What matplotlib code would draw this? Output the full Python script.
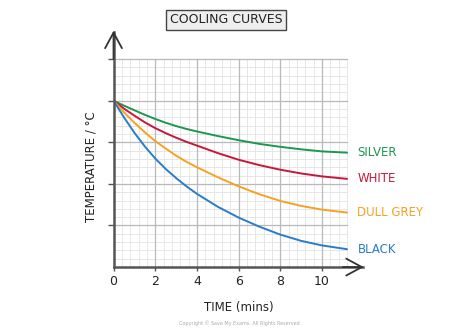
import matplotlib.pyplot as plt

# time (mins) and temperature readings (arbitrary grid units) for each surface
time = [0, 0.5, 1, 1.5, 2, 2.5, 3, 3.5, 4, 5, 6, 7, 8, 9, 10, 11.2]
silver = [4, 3.88, 3.77, 3.66, 3.56, 3.47, 3.39, 3.32, 3.26, 3.15, 3.05, 2.96, 2.89, 2.83, 2.78, 2.75]
white = [4, 3.81, 3.64, 3.48, 3.34, 3.22, 3.11, 3.01, 2.92, 2.74, 2.58, 2.45, 2.34, 2.25, 2.18, 2.12]
dull_grey = [4, 3.72, 3.47, 3.24, 3.03, 2.85, 2.68, 2.53, 2.40, 2.16, 1.94, 1.75, 1.59, 1.47, 1.38, 1.31]
black = [4, 3.60, 3.23, 2.90, 2.61, 2.36, 2.14, 1.94, 1.76, 1.45, 1.19, 0.97, 0.78, 0.63, 0.52, 0.43]

names = ['SILVER', 'WHITE', 'DULL GREY', 'BLACK']
series = [silver, white, dull_grey, black]
colours = ['#1e9651', '#c8173c', '#f5a124', '#2a7cc7']

x_ticks = [0, 2, 4, 6, 8, 10]
y_ticks = [1, 2, 3, 4, 5]
grid_right = 11.2
grid_top = 5

fig = plt.figure(figsize=(4.74, 3.33), dpi=100)
ax = fig.add_axes([0.2395, 0.198, 0.5278, 0.7246])
ax.set_xlim(0, 12)
ax.set_ylim(0, 5.8)

# graph paper: minor lines every fifth of a major square
minor_x = [i * 0.4 for i in range(1, 29)]
minor_y = [i * 0.2 for i in range(1, 26)]
for v in minor_x:
    ax.plot([v, v], [0, grid_top], color='#e3e3e3', lw=0.6, zorder=1)
for v in minor_y:
    ax.plot([0, grid_right], [v, v], color='#e3e3e3', lw=0.6, zorder=1)
for v in x_ticks[1:]:
    ax.plot([v, v], [0, grid_top], color='#b8b8b8', lw=0.9, zorder=2)
for v in y_ticks:
    ax.plot([0, grid_right], [v, v], color='#b8b8b8', lw=0.9, zorder=2)

for name, vals, c in zip(names, series, colours):
    ax.plot(time, vals, color=c, lw=1.4, zorder=4, solid_capstyle='round',
            solid_joinstyle='round')
    ax.text(11.7, vals[-1], name, color=c, fontsize=8.5, va='center', ha='left')

# axes drawn as lines with open chevron heads
for s in ax.spines.values():
    s.set_visible(False)
ax.plot([0, 11.95], [0, 0], color='#555555', lw=1.8, zorder=5, clip_on=False)
ax.plot([0, 0], [0, 5.65], color='#555555', lw=1.8, zorder=5, clip_on=False)
head = '->,head_length=0.7,head_width=0.38'
ax.annotate('', xy=(12, 0), xytext=(11, 0),
            arrowprops=dict(arrowstyle=head, lw=1.3, color='#333333',
                            mutation_scale=16, shrinkA=0, shrinkB=0),
            annotation_clip=False, zorder=6)
ax.annotate('', xy=(0, 5.68), xytext=(0, 5.0),
            arrowprops=dict(arrowstyle=head, lw=1.3, color='#333333',
                            mutation_scale=16, shrinkA=0, shrinkB=0),
            annotation_clip=False, zorder=6)

ax.set_xticks(x_ticks)
ax.set_yticks(y_ticks)
ax.set_yticklabels([])
ax.tick_params(axis='x', length=3, width=1, color='#555555', labelsize=9,
               labelcolor='#222222', pad=3)
ax.tick_params(axis='y', length=4, width=1, color='#555555')
ax.patch.set_visible(False)

ax.set_xlabel('TIME (mins)', fontsize=8.5, color='#222222', labelpad=9)
ax.set_ylabel('TEMPERATURE / °C', fontsize=8.5, color='#222222')
ax.yaxis.set_label_coords(-0.065, 0.415)

fig.text(0.477, 0.94, 'COOLING CURVES', fontsize=9, color='#222222',
         ha='center', va='center',
         bbox=dict(boxstyle='square,pad=0.3', fc='#eeeeee', ec='#444444', lw=1))
fig.text(0.506, 0.03, 'Copyright © Save My Exams. All Rights Reserved',
         fontsize=3.5, color='#aaaaaa', ha='center', va='center')

fig.savefig('out.png', dpi=100)
